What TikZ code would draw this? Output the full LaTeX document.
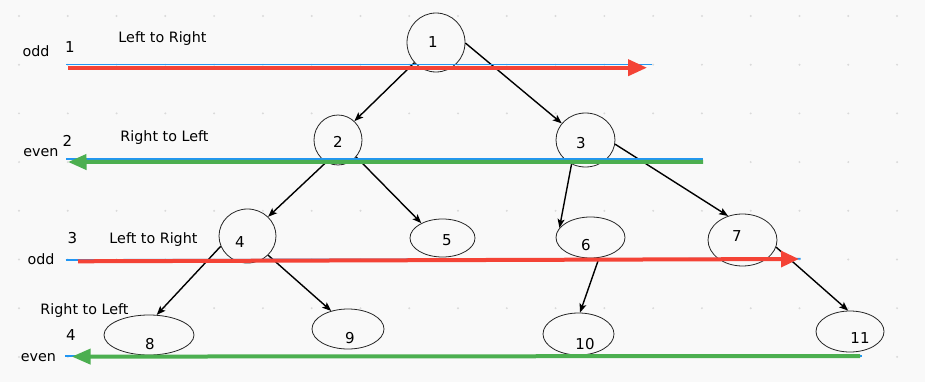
\documentclass[tikz,border=0pt]{standalone}
\usepackage{fontspec}
\setmainfont{DejaVu Sans}
\usetikzlibrary{shapes.geometric,arrows.meta}
\definecolor{bgc}{HTML}{F9F9F9}
\definecolor{dotc}{HTML}{DADADA}
\definecolor{bandblue}{HTML}{2196F3}
\definecolor{bandred}{HTML}{F44336}
\definecolor{bandgreen}{HTML}{4CAF50}
\tikzset{
  tn/.style={ellipse, draw=black!85, line width=0.8pt, inner sep=0pt},
  nl/.style={font=\fontsize{15}{17}\selectfont},
  lbl/.style={font=\fontsize{14.3}{16}\selectfont, inner sep=0pt},
  lvl/.style={font=\fontsize{15}{17}\selectfont, inner sep=0pt},
  edge/.style={line width=1.4pt, black, -{Stealth[length=9pt,width=7pt,inset=2pt]}},
  guide/.style={line width=1.8pt, bandblue},
  redband/.style={line width=4pt, bandred},
  greenband/.style={line width=4pt, bandgreen},
}
\begin{document}
\begin{tikzpicture}[x=1pt,y=-1pt]
\useasboundingbox (0,0) rectangle (925,382);
\fill[bgc] (0,0) rectangle (925,382);
\foreach \i in {0,...,18} {
  \foreach \j in {0,...,7} {
    \fill[dotc] ({19+48.78*\i},{16+48.7*\j}) circle (1.1pt);
  }
}
% tree nodes
\node[tn, minimum width=58pt, minimum height=59pt, label={[nl,xshift=-3pt,yshift=0pt]center:1}] (n1) at (436,42.5) {};
\node[tn, minimum width=48pt, minimum height=50pt, label={[nl,xshift=0pt,yshift=-2pt]center:2}] (n2) at (338,140) {};
\node[tn, minimum width=59pt, minimum height=54pt, label={[nl,xshift=-4.5pt,yshift=-3pt]center:3}] (n3) at (585.5,140) {};
\node[tn, minimum width=57pt, minimum height=54pt, label={[nl,xshift=-7.5pt,yshift=-6pt]center:4}] (n4) at (247.5,236) {};
\node[tn, minimum width=65pt, minimum height=38pt, label={[nl,xshift=4.5pt,yshift=-2pt]center:5}] (n5) at (442.5,238) {};
\node[tn, minimum width=69pt, minimum height=41pt, label={[nl,xshift=-4.5pt,yshift=-7.5pt]center:6}] (n6) at (590.5,237.5) {};
\node[tn, minimum width=69pt, minimum height=52pt, label={[nl,xshift=-5.5pt,yshift=4pt]center:7}] (n7) at (742.5,240) {};
\node[tn, minimum width=90pt, minimum height=40pt, label={[nl,xshift=1pt,yshift=-9pt]center:8}] (n8) at (149,335) {};
\node[tn, minimum width=72pt, minimum height=40pt, label={[nl,xshift=2pt,yshift=-9pt]center:9}] (n9) at (348,329) {};
\node[tn, minimum width=71pt, minimum height=42pt, label={[nl,xshift=6.5pt,yshift=-10pt]center:10}] (n10) at (578.5,334) {};
\node[tn, minimum width=68pt, minimum height=41pt, label={[nl,xshift=10pt,yshift=-6.5pt]center:11}] (n11) at (850,331.5) {};
% edges
\draw[edge] (n1.223) -- (n2.49);
\draw[edge] (n1.359) -- (n3.145);
\draw[edge] (n2.242) -- (n4.43);
\draw[edge] (n2.317) -- (n5.145);
\draw[edge] (n3.240) -- (n6.163);
\draw[edge] (n3.352) -- (n7.121);
\draw[edge] (n4.201) -- (n8.69);
\draw[edge] (n4.317) -- (n9.133);
\draw[edge] (n6.293) -- (n10.86);
\draw[edge] (n7.348) -- (n11.95);
% level bands
\coordinate (b1a) at (66,64.5);   \coordinate (b1b) at (652,64.5);
\coordinate (r1a) at (68,67.7);   \coordinate (r1b) at (647,67.7);
\coordinate (b2a) at (66,159.2);  \coordinate (b2b) at (703,159.2);
\coordinate (g2a) at (703,161.8); \coordinate (g2b) at (68,162);
\coordinate (b3a) at (66,260);    \coordinate (b3b) at (800.5,258.7);
\coordinate (r3a) at (78,261.3);  \coordinate (r3b) at (799,259);
\coordinate (b4a) at (65,355.6);  \coordinate (b4b) at (861.5,355.6);
\coordinate (g4a) at (860,356);   \coordinate (g4b) at (71.7,356.6);
\draw[guide] (b1a) -- (b1b);
\draw[guide] (b2a) -- (b2b);
\draw[guide] (b3a) -- (b3b);
\draw[guide] (b4a) -- (b4b);
\draw[redband, -{Triangle[length=19pt,width=16pt]}] (r1a) -- (r1b);
\draw[greenband, -{Triangle[length=18.5pt,width=15pt]}] (g2a) -- (g2b);
\draw[redband, -{Triangle[length=18pt,width=15.7pt]}] (r3a) -- (r3b);
\draw[greenband, -{Triangle[length=19pt,width=15pt]}] (g4a) -- (g4b);
% level labels
\node[lbl] (odd1) at (36,51.5) {odd};
\node[lvl] (num1) at (70,47) {1};
\node[lbl] (lr1) at (162.5,39) {Left to Right};
\node[lbl] (even2) at (41,153) {even};
\node[lvl] (num2) at (67.5,141) {2};
\node[lbl] (rl2) at (164.5,137.5) {Right to Left};
\node[lvl] (num3) at (72.5,238) {3};
\node[lbl] (lr3) at (153.5,239.5) {Left to Right};
\node[lbl] (odd3) at (41,259) {odd};
\node[lbl] (rl4) at (84.5,310.5) {Right to Left};
\node[lvl] (num4) at (71,335) {4};
\node[lbl] (even4) at (38.5,358) {even};
\end{tikzpicture}
\end{document}
